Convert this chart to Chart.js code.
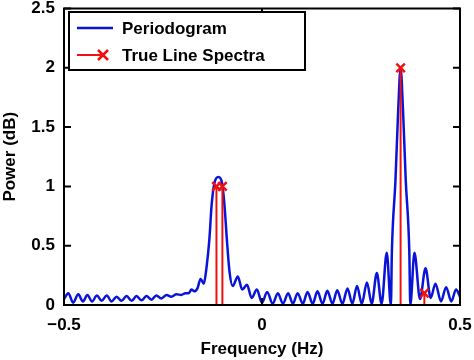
<!DOCTYPE html>
<html>
<head>
<meta charset="utf-8">
<script src="https://cdn.jsdelivr.net/npm/chart.js@4.4.1/dist/chart.umd.min.js"></script>
<style>
  body { margin: 0; background: #fff; }
  #wrap { width: 474px; height: 360px; }
</style>
</head>
<body>
<div id="wrap"><canvas id="chart" width="474" height="360"></canvas></div>
<script>
// --- donnees ---
const periodFreq = [
  -0.500, -0.489, -0.477, -0.464, -0.452, -0.441, -0.429, -0.417, -0.405, -0.392,
  -0.380, -0.367, -0.355, -0.342, -0.329, -0.317, -0.304, -0.292, -0.279, -0.267,
  -0.254, -0.241, -0.229, -0.216, -0.204, -0.193, -0.185, -0.178, -0.171, -0.163,
  -0.155, -0.147, -0.140, -0.133, -0.127, -0.120, -0.110, -0.101, -0.095, -0.088,
  -0.082, -0.074, -0.061, -0.050, -0.038, -0.026, -0.013, 0.000, 0.013, 0.027,
  0.040, 0.053, 0.066, 0.078, 0.090, 0.103, 0.115, 0.128, 0.140, 0.153,
  0.165, 0.178, 0.190, 0.203, 0.216, 0.228, 0.240, 0.252, 0.265, 0.277,
  0.290, 0.302, 0.315, 0.3255, 0.328, 0.337, 0.344, 0.350, 0.356, 0.363,
  0.372, 0.3745, 0.385, 0.399, 0.413, 0.426, 0.438, 0.452, 0.465, 0.478,
  0.490, 0.500
];
const periodPower = [
  0.05, 0.10, 0.02, 0.09, 0.03, 0.085, 0.03, 0.08, 0.035, 0.08,
  0.03, 0.07, 0.035, 0.075, 0.035, 0.075, 0.04, 0.075, 0.045, 0.08,
  0.055, 0.085, 0.07, 0.09, 0.085, 0.10, 0.10, 0.13, 0.115, 0.14,
  0.22, 0.18, 0.32, 0.55, 0.85, 1.03, 1.08, 1.03, 0.85, 0.52,
  0.28, 0.16, 0.24, 0.13, 0.17, 0.06, 0.13, 0.02, 0.11, 0.01,
  0.10, 0.01, 0.10, 0.01, 0.10, 0.01, 0.11, 0.01, 0.115, 0.01,
  0.12, 0.01, 0.125, 0.01, 0.14, 0.01, 0.16, 0.01, 0.19, 0.01,
  0.27, 0.01, 0.44, 0.0, 0.45, 1.05, 1.65, 2.00, 1.65, 1.05,
  0.45, 0.0, 0.44, 0.05, 0.31, 0.06, 0.18, 0.03, 0.15, 0.03,
  0.13, 0.07
];
const lineFreq = [-0.115, -0.100, 0.350, 0.410];
const linePower = [1.0, 1.0, 2.0, 0.1];
const xTicks = [-0.5, 0, 0.5];
const yTicks = [0, 0.5, 1, 1.5, 2, 2.5];
const legendLabels = ['Periodogram', 'True Line Spectra'];

const FONT = "'Liberation Sans', Arial, sans-serif";
const BLUE = '#0a14d8';
const RED = '#f01010';

// construction des jeux de donnees
const periodData = periodFreq.map((f, i) => ({ x: f, y: periodPower[i] }));
const stemData = [];
lineFreq.forEach((f, i) => {
    stemData.push({ x: f, y: 0 });
    stemData.push({ x: f, y: linePower[i] });
    stemData.push({ x: f, y: null });
});
const markerData = lineFreq.map((f, i) => ({ x: f, y: linePower[i] }));

function fmt(v) {
    return v < 0 ? '\u2212' + Math.abs(v) : String(v);
}

// cadre + graduations vers l'interieur (style matlab)
const framePlugin = {
    id: 'frame',
    afterDatasetsDraw(chart) {
        const ctx = chart.ctx;
        const a = chart.chartArea;
        const xs = chart.scales.x, ys = chart.scales.y;
        const tl = 7;
        ctx.save();
        ctx.strokeStyle = '#000';
        ctx.lineWidth = 2;
        ctx.beginPath();
        xTicks.forEach(v => {
            const px = xs.getPixelForValue(v);
            ctx.moveTo(px, a.bottom); ctx.lineTo(px, a.bottom - tl);
            ctx.moveTo(px, a.top); ctx.lineTo(px, a.top + tl);
        });
        yTicks.forEach(v => {
            const py = ys.getPixelForValue(v);
            ctx.moveTo(a.left, py); ctx.lineTo(a.left + tl, py);
            ctx.moveTo(a.right, py); ctx.lineTo(a.right - tl, py);
        });
        ctx.stroke();
        ctx.strokeRect(a.left, a.top, a.right - a.left, a.bottom - a.top);
        ctx.restore();
    },
    afterDraw(chart) {
        // legende dessinee a la main (ligne + marqueur)
        const ctx = chart.ctx;
        const bx = 69, by = 12, bw = 236, bh = 58;
        ctx.save();
        ctx.fillStyle = '#fff';
        ctx.fillRect(bx, by, bw, bh);
        ctx.strokeStyle = '#000';
        ctx.lineWidth = 2;
        ctx.strokeRect(bx, by, bw, bh);

        ctx.lineWidth = 2.5;
        ctx.strokeStyle = BLUE;
        ctx.beginPath(); ctx.moveTo(77, 28); ctx.lineTo(113, 28); ctx.stroke();

        ctx.strokeStyle = RED;
        ctx.lineWidth = 2;
        ctx.beginPath(); ctx.moveTo(77, 55); ctx.lineTo(103, 55); ctx.stroke();
        ctx.lineWidth = 2.5;
        ctx.beginPath();
        ctx.moveTo(98, 50); ctx.lineTo(108, 60);
        ctx.moveTo(108, 50); ctx.lineTo(98, 60);
        ctx.stroke();

        ctx.fillStyle = '#000';
        ctx.font = 'bold 17px ' + FONT;
        ctx.textBaseline = 'middle';
        ctx.textAlign = 'left';
        ctx.fillText(legendLabels[0], 122, 29);
        ctx.fillText(legendLabels[1], 122, 56);
        ctx.restore();
    }
};

new Chart(document.getElementById('chart'), {
    type: 'line',
    data: {
        datasets: [
            {
                label: legendLabels[1] + ' markers',
                data: markerData,
                showLine: false,
                pointStyle: 'crossRot',
                pointRadius: 6,
                pointBorderWidth: 2.5,
                borderColor: RED,
                backgroundColor: RED,
                order: 0
            },
            {
                label: legendLabels[1],
                data: stemData,
                borderColor: RED,
                borderWidth: 2,
                pointRadius: 0,
                spanGaps: false,
                order: 1
            },
            {
                label: legendLabels[0],
                data: periodData,
                borderColor: BLUE,
                borderWidth: 2.5,
                pointRadius: 0,
                cubicInterpolationMode: 'monotone',
                order: 2
            }
        ]
    },
    options: {
        responsive: false,
        animation: false,
        events: [],
        layout: { padding: { left: 0, right: 14, top: 6, bottom: 0 } },
        plugins: { legend: { display: false }, tooltip: { enabled: false } },
        scales: {
            x: {
                type: 'linear',
                min: -0.5, max: 0.5,
                afterBuildTicks: s => { s.ticks = xTicks.map(v => ({ value: v })); },
                afterFit: s => { s.height = 55; s.paddingLeft = 0; s.paddingRight = 0; },
                grid: { display: false, drawTicks: false },
                border: { display: false },
                ticks: {
                    color: '#000', padding: 10,
                    font: { family: FONT, size: 17, weight: 'bold' },
                    maxRotation: 0,
                    callback: v => fmt(v)
                },
                title: {
                    display: true, text: 'Frequency (Hz)', color: '#000',
                    font: { family: FONT, size: 17, weight: 'bold' },
                    padding: { top: 0, bottom: 0 }
                }
            },
            y: {
                min: 0, max: 2.5,
                afterBuildTicks: s => { s.ticks = yTicks.map(v => ({ value: v })); },
                afterFit: s => { s.width = 64; s.paddingTop = 0; s.paddingBottom = 0; },
                grid: { display: false, drawTicks: false },
                border: { display: false },
                ticks: {
                    color: '#000', padding: 9,
                    font: { family: FONT, size: 17, weight: 'bold' },
                    callback: v => fmt(v)
                },
                title: {
                    display: true, text: 'Power (dB)', color: '#000',
                    font: { family: FONT, size: 17, weight: 'bold' },
                    padding: { top: 0, bottom: 0 }
                }
            }
        }
    },
    plugins: [framePlugin]
});
</script>
</body>
</html>
